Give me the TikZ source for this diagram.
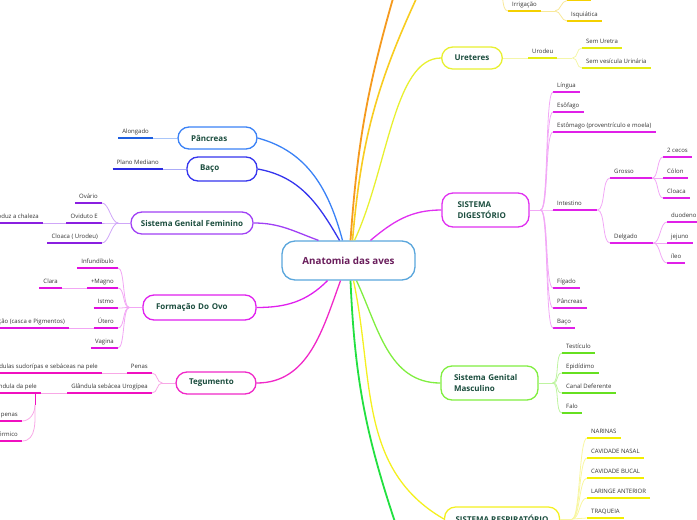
\documentclass[tikz,border=0pt]{standalone}
\usepackage{fontspec}
\setmainfont{Open Sans}
\usepackage{tikz}

\definecolor{hubtxt}{HTML}{1B4D3E}
\definecolor{leaftxt}{HTML}{333333}
\definecolor{avesB}{HTML}{5AA6DC}
\definecolor{avesT}{HTML}{6A1E5C}
\definecolor{pancC}{HTML}{3B82F6}
\definecolor{pancU}{HTML}{1E5FE0}
\definecolor{pancL}{HTML}{A9C6FA}
\definecolor{bacoC}{HTML}{3535EE}
\definecolor{bacoU}{HTML}{2A2AE0}
\definecolor{bacoL}{HTML}{ABABF8}
\definecolor{femC}{HTML}{A040F5}
\definecolor{femU}{HTML}{8A1FE0}
\definecolor{femL}{HTML}{CFA6F8}
\definecolor{ovoC}{HTML}{E020EE}
\definecolor{ovoU}{HTML}{E010E0}
\definecolor{ovoL}{HTML}{F2A6F4}
\definecolor{tegC}{HTML}{F028C8}
\definecolor{tegU}{HTML}{F010C0}
\definecolor{tegL}{HTML}{F8A8E6}
\definecolor{uretC}{HTML}{E8F030}
\definecolor{uretU}{HTML}{E4EC10}
\definecolor{uretL}{HTML}{F4F6A8}
\definecolor{irrU}{HTML}{F4D000}
\definecolor{irrL}{HTML}{F8E898}
\definecolor{digC}{HTML}{E030F0}
\definecolor{digU}{HTML}{E020E8}
\definecolor{digL}{HTML}{F2A8F6}
\definecolor{mascC}{HTML}{80EE40}
\definecolor{mascU}{HTML}{66E020}
\definecolor{mascL}{HTML}{BEF4A0}
\definecolor{respC}{HTML}{F4F020}
\definecolor{respU}{HTML}{F2EE00}
\definecolor{respL}{HTML}{F8F6A0}
\definecolor{orangeB}{HTML}{F59A1E}
\definecolor{goldB}{HTML}{F8CC20}
\definecolor{greenB}{HTML}{22E040}

\begin{document}
\begin{tikzpicture}[x=1pt,y=-1pt,
  hub/.style={draw=#1, line width=1.3pt, rounded corners=11pt, fill=white, text=hubtxt,
    font=\fontsize{8}{11}\selectfont\bfseries, align=left, inner xsep=13pt, inner ysep=0pt,
    minimum height=22pt},
  leaf/.style={text=leaftxt, font=\fontsize{6}{7}\selectfont, inner xsep=4pt, inner ysep=3pt,
    text height=4.5pt, text depth=1.5pt,
    append after command={(\tikzlastnode.south west) edge[draw=#1, line width=1.6pt] (\tikzlastnode.south east)}},
  link/.style={draw=#1, line width=1.3pt},
  twig/.style={draw=#1, line width=0.8pt}]
\useasboundingbox (0,0) rectangle (697,520);

\node[draw=avesB, line width=1.3pt, rounded corners=13pt, fill=white, text=avesT,
  font=\fontsize{9.8}{11}\selectfont\bfseries, minimum width=133pt, minimum height=39pt]
  (aves) at (348.5,260.5) {Anatomia das aves};

\node[hub=pancC, text width=53pt] (panc) at (217.5,138) {Pâncreas};
\node[hub=bacoC, text width=44pt, minimum height=24pt] (baco) at (222,169) {Baço};
\node[hub=femC, inner xsep=10pt] (fem) at (192,223) {Sistema Genital Feminino};
\node[hub=ovoC, text width=87pt, minimum height=25pt] (ovo) at (199.5,307.5) {Formação Do Ovo};
\node[hub=tegC, text width=54pt] (teg) at (216,383) {Tegumento};
\node[hub=uretC, minimum width=60pt] (uret) at (472,58) {Ureteres};
\node[hub=digC, text width=56pt, inner xsep=15.5pt, minimum height=34pt] (dig) at (485.5,210) {SISTEMA\\DIGESTÓRIO};
\node[hub=mascC, text width=71pt, minimum height=34pt] (masc) at (489.5,383) {Sistema Genital\\Masculino};
\node[hub=respC, inner xsep=11pt, minimum height=24pt] (resp) at (502,519) {SISTEMA RESPIRATÓRIO};

\node[leaf=pancU, anchor=south east] (alongado) at (153,138) {Alongado};
\node[leaf=bacoU, anchor=south east] (plano) at (163,169) {Plano Mediano};
\node[leaf=femU, anchor=south east] (ovario) at (102,203) {Ovário};
\node[leaf=femU, anchor=south east] (oviduto) at (102,223) {Oviduto E};
\node[leaf=femU, anchor=south east] (cloaca) at (102,243) {Cloaca ( Urodeu)};
\node[leaf=femU, anchor=south east] (chalaza) at (43,223) {Produz a chaleza};
\node[leaf=ovoU, anchor=south east] (infund) at (118,268) {Infundíbulo};
\node[leaf=ovoU, anchor=south east] (magno) at (118,288) {+Magno};
\node[leaf=ovoU, anchor=south east] (clara) at (62,288) {Clara};
\node[leaf=ovoU, anchor=south east] (istmo) at (118,308) {Istmo};
\node[leaf=ovoU, anchor=south east] (utero) at (118,328) {Útero};
\node[leaf=ovoU, anchor=south east] (casca) at (69,328) {Calcificação (casca e Pigmentos)};
\node[leaf=ovoU, anchor=south east] (vagina) at (118,348) {Vagina};
\node[leaf=tegU, anchor=south east] (penas) at (152,373) {Penas};
\node[leaf=tegU, anchor=south east] (sudor) at (102,373) {Sem glândulas sudorípas e sebáceas na pele};
\node[leaf=tegU, anchor=south east] (uropig) at (152,393) {Glândula sebácea Urogípea};
\node[leaf=tegU, anchor=south east] (unica) at (41,393) {Única glândula da pele};
\node[leaf=tegU, anchor=south east] (imperm) at (22,421) {Impermeabiliza as penas};
\node[leaf=tegU, anchor=south east] (termico) at (22,441) {Isolamento térmico};

\node[leaf=irrU, anchor=south west] (irrig) at (508,11) {Irrigação};
\node[leaf=irrU, anchor=south west, minimum width=24pt] (irrA) at (567,0.6) {};
\node[leaf=irrU, anchor=south west] (isquia) at (567,21) {Isquiática};
\node[leaf=uretU, anchor=south west] (urodeu) at (528,58) {Urodeu};
\node[leaf=uretU, anchor=south west] (semuretra) at (582,48) {Sem Uretra};
\node[leaf=uretU, anchor=south west] (semves) at (582,68) {Sem vesícula Urinária};
\node[leaf=digU, anchor=south west] (lingua) at (553,92) {Língua};
\node[leaf=digU, anchor=south west] (esofago) at (553,112) {Esôfago};
\node[leaf=digU, anchor=south west] (estomago) at (553,132) {Estômago (proventrículo e moela)};
\node[leaf=digU, anchor=south west, text width=36pt, align=left] (intestino) at (553,210) {Intestino};
\node[leaf=digU, anchor=south west, text width=34pt, align=left] (grosso) at (610,178) {Grosso};
\node[leaf=digU, anchor=south west] (cecos) at (663,157) {2 cecos};
\node[leaf=digU, anchor=south west] (colon) at (663,178) {Cólon};
\node[leaf=digU, anchor=south west] (cloacaD) at (663,198) {Cloaca};
\node[leaf=digU, anchor=south west, text width=35pt, align=left] (delgado) at (610,243) {Delgado};
\node[leaf=digU, anchor=south west] (duodeno) at (667,222) {duodeno};
\node[leaf=digU, anchor=south west] (jejuno) at (667,243) {jejuno};
\node[leaf=digU, anchor=south west] (ileo) at (667,263) {íleo};
\node[leaf=digU, anchor=south west] (figado) at (553,288) {Fígado};
\node[leaf=digU, anchor=south west] (pancD) at (553,308) {Pâncreas};
\node[leaf=digU, anchor=south west] (bacoD) at (553,328) {Baço};
\node[leaf=mascU, anchor=south west] (testiculo) at (562,353) {Testículo};
\node[leaf=mascU, anchor=south west] (epididimo) at (562,373) {Epidídimo};
\node[leaf=mascU, anchor=south west] (canal) at (562,393) {Canal Deferente};
\node[leaf=mascU, anchor=south west] (falo) at (562,413) {Falo};
\node[leaf=respU, anchor=south west] (narinas) at (587,438) {NARINAS};
\node[leaf=respU, anchor=south west] (cavnasal) at (587,458) {CAVIDADE NASAL};
\node[leaf=respU, anchor=south west] (cavbucal) at (587,478) {CAVIDADE BUCAL};
\node[leaf=respU, anchor=south west] (laringe) at (587,498) {LARINGE ANTERIOR};
\node[leaf=respU, anchor=south west] (traqueia) at (587,518) {TRAQUEIA};

\coordinate (offA) at (394,-5);
\coordinate (offB) at (418,-5);
\coordinate (offC) at (396,525);
\coordinate (irrP) at (497,-16);

\draw[link=pancC] (panc.east) to[out=-15,in=105] ([xshift=-6pt]aves.north);
\draw[link=bacoC] (baco.east) to[out=-10,in=120] ([xshift=-9pt]aves.north);
\draw[link=femC] (fem.east) to[out=0,in=160] ([xshift=-30pt]aves.north);
\draw[link=ovoC] (ovo.east) to[out=0,in=-135] ([xshift=-21pt]aves.south);
\draw[link=tegC] (teg.east) to[out=0,in=-110] ([xshift=-8pt]aves.south);
\draw[link=orangeB, line width=1.8pt] ([xshift=2pt]aves.north) to[bend left=6] (offA);
\draw[link=goldB, line width=1.6pt] ([xshift=4pt]aves.north) to[bend left=10] (offB);
\draw[link=uretC] ([xshift=6pt]aves.north) to[out=65,in=180,in looseness=0.6] (uret.west);
\draw[link=digC] ([xshift=22pt]aves.north) to[out=40,in=180] (dig.west);
\draw[link=greenB, line width=1.8pt] ([xshift=2pt]aves.south) to[bend right=8] (offC);
\draw[link=respC] ([xshift=5pt]aves.south) to[out=-78,in=150] (resp.west);
\draw[link=mascC] ([xshift=8pt]aves.south) to[out=-65,in=180] (masc.west);

\draw[twig=pancL] (panc.west) -- (alongado.south east);
\draw[twig=bacoL] (baco.west) -- (plano.south east);
\draw[twig=femL] (fem.west) -- ++(-12,0) coordinate (femJ);
\foreach \n in {ovario,oviduto,cloaca}
  \draw[twig=femL] (femJ) to[out=180,in=0,distance=7pt] (\n.south east);
\draw[twig=femL] (oviduto.south west) -- (chalaza.south east);
\draw[twig=ovoL] (ovo.west) -- ++(-13,0) coordinate (ovoJ);
\foreach \n in {infund,magno,istmo,utero,vagina}
  \draw[twig=ovoL] (ovoJ) to[out=180,in=0,distance=7pt] (\n.south east);
\draw[twig=ovoL] (magno.south west) -- (clara.south east);
\draw[twig=ovoL] (utero.south west) -- (casca.south east);
\draw[twig=tegL] (teg.west) -- ++(-13,0) coordinate (tegJ);
\foreach \n in {penas,uropig}
  \draw[twig=tegL] (tegJ) to[out=180,in=0,distance=6pt] (\n.south east);
\draw[twig=tegL] (penas.south west) -- (sudor.south east);
\draw[twig=tegL] (uropig.south west) -- (unica.south east);
\draw[twig=tegU, line width=1pt] ([xshift=-6pt]unica.south east) -- ++(0,12) coordinate (uniJ);
\foreach \n in {imperm,termico}
  \draw[twig=tegL] (uniJ) to[out=-90,in=0] (\n.south east);

\draw[twig=irrL] (irrP) to[out=0,in=180,distance=8pt] (irrig.south west);
\draw[twig=irrL] (irrig.south east) -- ++(14,0) coordinate (irrJ);
\foreach \n in {irrA,isquia}
  \draw[twig=irrL] (irrJ) to[out=0,in=180,distance=6pt] (\n.south west);
\draw[twig=uretL] (uret.east) -- (urodeu.south west);
\draw[twig=uretL] (urodeu.south east) -- ++(15,0) coordinate (uroJ);
\foreach \n in {semuretra,semves}
  \draw[twig=uretL] (uroJ) to[out=0,in=180,distance=6pt] (\n.south west);
\draw[twig=digL] (dig.east) -- ++(11,0) coordinate (digJ);
\foreach \n in {lingua,esofago,estomago,intestino,figado,pancD,bacoD}
  \draw[twig=digL] (digJ) to[out=0,in=180,distance=8pt] (\n.south west);
\foreach \n in {grosso,delgado}
  \draw[twig=digL] (intestino.south east) to[out=0,in=180,distance=8pt] (\n.south west);
\foreach \n in {cecos,colon,cloacaD}
  \draw[twig=digL] (grosso.south east) to[out=0,in=180,distance=6pt] (\n.south west);
\foreach \n in {duodeno,jejuno,ileo}
  \draw[twig=digL] (delgado.south east) to[out=0,in=180,distance=7pt] (\n.south west);
\draw[twig=mascL] (masc.east) -- ++(14,0) coordinate (mascJ);
\foreach \n in {testiculo,epididimo,canal,falo}
  \draw[twig=mascL] (mascJ) to[out=0,in=180,distance=7pt] (\n.south west);
\draw[twig=respL] (resp.east) -- ++(12,0) coordinate (respJ);
\foreach \n in {narinas,cavnasal,cavbucal,laringe,traqueia}
  \draw[twig=respL] (respJ) to[out=0,in=180,distance=8pt] (\n.south west);
\end{tikzpicture}
\end{document}
